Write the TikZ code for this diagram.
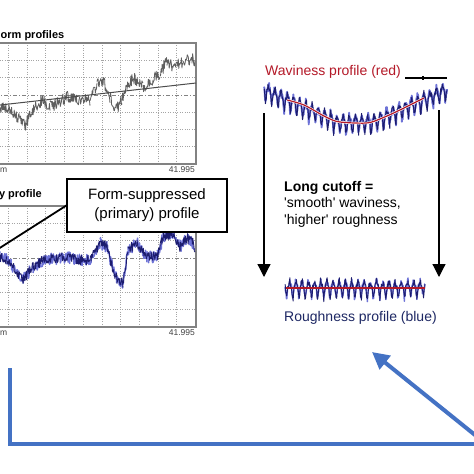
\documentclass[tikz,border=0pt]{standalone}
\usepackage{fontspec}
\setmainfont{Liberation Sans}
\usetikzlibrary{arrows.meta}
\definecolor{arrowblue}{RGB}{68,114,196}
\definecolor{navy}{RGB}{28,28,110}
\definecolor{lightnavy}{RGB}{110,115,215}
\definecolor{wavered}{RGB}{180,25,40}
\definecolor{gridgray}{RGB}{165,165,165}
\definecolor{framegray}{RGB}{130,130,130}
\definecolor{profgray}{RGB}{95,95,95}
\definecolor{textblue}{RGB}{30,40,100}
\newcommand{\myprofile}[5]{%
  \foreach \xb/\yb [remember=\xb as \xa (initially #3), remember=\yb as \ya (initially #4)] in {#5} {
    \pgfmathtruncatemacro{\ns}{max(2,int(2*(\xb-\xa)))}
    \draw[#1] plot[domain=\xa:\xb, samples=\ns]
      (\x, {\ya + (\yb-\ya)*(\x-\xa)/(\xb-\xa) + #2*rand});
  }%
}
\begin{document}
\begin{tikzpicture}[x=1pt,y=-1pt,
  gridline/.style={draw=gridgray, line width=0.6pt, dash pattern=on 0.8pt off 1.6pt},
  gridmid/.style={draw=framegray, line width=0.8pt, dash pattern=on 4pt off 2pt on 1pt off 2pt},
  chartframe/.style={draw=framegray, line width=1.5pt},
  charttitle/.style={font=\fontsize{11}{13}\selectfont\bfseries, inner sep=0pt, anchor=base west},
  axislabel/.style={font=\fontsize{8.5}{10}\selectfont, text=black!75, inner sep=0pt, anchor=base east},
  callout/.style={draw=black, fill=white, line width=1.3pt, align=center, inner sep=0pt,
     font=\fontsize{15}{19}\selectfont, minimum width=160pt, minimum height=53pt},
  leader/.style={draw=black, line width=1.8pt},
  righttext/.style={font=\fontsize{14}{16}\selectfont, inner sep=0pt},
  downarrow/.style={draw=black, line width=1.2pt, -{Triangle[length=13pt,width=13pt]}},
  bluearrow/.style={draw=arrowblue, line width=4pt, line join=miter},
  grayprof/.style={draw=profgray, line width=0.8pt, line join=round},
  lightprof/.style={draw=lightnavy, line width=1.4pt, line join=round},
  navyprof/.style={draw=navy, line width=0.9pt, line join=round},
  declare function={wbase(\t)=123-0.44*max(0,abs(\t-355)-17);
    spk(\t)=8*sin(58*\t)*abs(sin(58*\t)) + 3*sin(58*\t)*sin(58*\t) - 1.5;}
]
\useasboundingbox (0,0) rectangle (474,474);
\clip (0,0) rectangle (474,474);
\fill[white] (0,0) rectangle (474,474);

% ---------- charts ----------
\foreach \oy in {0,163} {
  \foreach \gx in {8.3,27,45.7,64.4,83.1,101.8,120.5,139.2,157.9,176.6}
    \draw[gridline] (\gx,43+\oy) -- (\gx,164+\oy);
  \foreach \gy in {60.3,77.6,112.1,129.4,146.7}
    \draw[gridline] (-5,\gy+\oy) -- (196,\gy+\oy);
  \draw[gridmid] (-5,94.9+\oy) -- (196,94.9+\oy);
  \draw[chartframe] (-5,43+\oy) rectangle (196,164+\oy);
}

% top chart profile (form)
\pgfmathsetseed{11}
\myprofile{grayprof}{6}{-4}{104}{0/107, 10/110, 20/120, 25/126, 33/110, 43/100, 50/107,
   67/97, 80/100, 90/100, 97/85, 103/81, 110/97, 115/112, 122/100, 127/85, 133/78,
   143/87, 153/80, 160/73, 167/61, 173/67, 183/63, 192/58, 195/66}
\draw[draw=black!70, line width=1pt] (-5,105.6) -- (196,83);

% second chart profile (primary)
\pgfmathsetseed{23}
\myprofile{lightprof}{6}{-4}{258}{0/257, 7/260, 23/280, 33/267, 43/260, 67/257,
   80/260, 90/260, 100/243, 107/247, 115/277, 123/283, 128/250, 137/243,
   147/257, 157/257, 163/237, 173/233, 180/247, 187/238, 193/243, 195/248}
\pgfmathsetseed{37}
\myprofile{navyprof}{5}{-4}{258}{0/257, 7/260, 23/280, 33/267, 43/260, 67/257,
   80/260, 90/260, 100/243, 107/247, 115/277, 123/283, 128/250, 137/243,
   147/257, 157/257, 163/237, 173/233, 180/247, 187/238, 193/243, 195/248}

% chart titles and axis labels (as cropped in the reference)
\node[charttitle] (formtitle) at (0.5,38) {orm profiles};
\node[charttitle, anchor=base east] (primtitle) at (42,197) {y profile};
\node[axislabel, anchor=base west] (mm1) at (0,172) {m};
\node[axislabel] (end1) at (195,172) {41.995};
\node[axislabel, anchor=base west] (mm2) at (0,335) {m};
\node[axislabel] (end2) at (195,335) {41.995};

% callout
\node[callout] (callout) at (147,205.5) {Form-suppressed\\(primary) profile};
\coordinate (leaderend) at (-5,251);
\draw[leader] (callout.west) -- (leaderend);

% ---------- right panel ----------
\node[righttext, text=wavered, anchor=base west] (wavtitle) at (265,75) {Waviness profile (red)};
\coordinate (sb1) at (405,78);
\coordinate (sb2) at (447,78);
\coordinate (sbt) at (423,78);
\draw[black, line width=1.2pt] (sb1) -- (sb2);
\draw[black, line width=1.2pt] ([yshift=2pt]sbt) -- ([yshift=-2pt]sbt);

\pgfmathsetseed{5}
\draw[lightprof, line width=1.8pt]
  plot[domain=264:447, samples=500] (\x, {wbase(\x) + (1+0.35*rand)*spk(\x-264) + 3*rand});
\pgfmathsetseed{6}
\draw[navyprof, line width=1pt]
  plot[domain=264:447, samples=500] (\x, {wbase(\x) + (1+0.35*rand)*spk(\x-264) + 2.5*rand});
\draw[white, line width=2.4pt] plot[smooth] coordinates {(287,100) (304,105) (324,116) (337,121.5) (355,123) (370,122.5) (387,116) (404,108) (424,98)};
\draw[wavered, line width=1.2pt] plot[smooth] coordinates {(287,100) (304,105) (324,116) (337,121.5) (355,123) (370,122.5) (387,116) (404,108) (424,98)};

\coordinate (la1) at (264,113);
\coordinate (la2) at (264,277);
\coordinate (ra1) at (439,110);
\coordinate (ra2) at (439,277);
\draw[downarrow] (la1) -- (la2);
\draw[downarrow] (ra1) -- (ra2);

\node[righttext, font=\fontsize{14}{16}\selectfont\bfseries, anchor=base west] (lc1) at (284,191) {Long cutoff =};
\node[righttext, anchor=base west] (lc2) at (284,207.5) {\textquotesingle smooth\textquotesingle{} waviness,};
\node[righttext, anchor=base west] (lc3) at (284,224) {\textquotesingle higher\textquotesingle{} roughness};

\pgfmathsetseed{9}
\draw[lightprof]
  plot[domain=285:425, samples=380] (\x, {288 + (1+0.35*rand)*spk(\x-285) + 3*rand});
\pgfmathsetseed{10}
\draw[navyprof]
  plot[domain=285:425, samples=380] (\x, {288 + (1+0.35*rand)*spk(\x-285) + 2.5*rand});
\coordinate (rr1) at (286,288);
\coordinate (rr2) at (425,288);
\draw[wavered, line width=1.1pt] (rr1) -- (rr2);

\node[righttext, text=textblue, anchor=base] (roughtitle) at (360.5,321) {Roughness profile (blue)};

% ---------- blue feedback arrow ----------
\coordinate (b1) at (10,368);
\coordinate (b2) at (10,444);
\coordinate (b3) at (480,444);
\draw[bluearrow] (b1) -- (b2) -- (b3);
\coordinate (d1) at (480,439);
\coordinate (d2) at (372,352);
\draw[bluearrow, -{Triangle[length=17pt,width=17pt]}] (d1) -- (d2);
\end{tikzpicture}
\end{document}
